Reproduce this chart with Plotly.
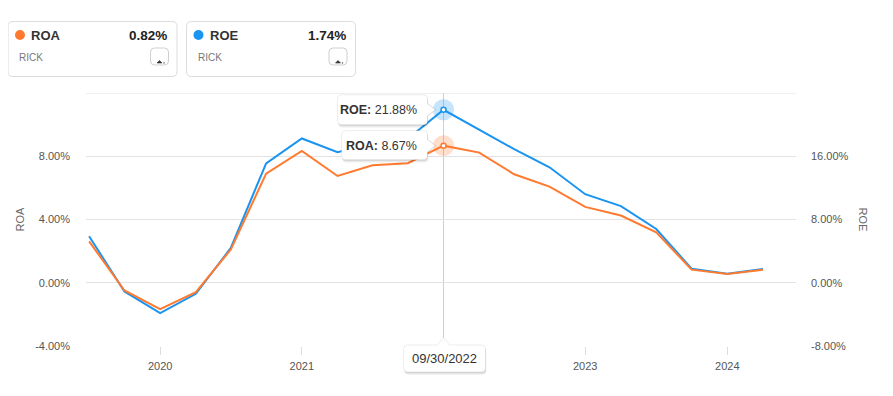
import plotly.graph_objects as go

# ---------------- data ----------------
dates = ["2020-03-31", "2020-06-30", "2020-09-30", "2020-12-31",
         "2021-03-31", "2021-06-30", "2021-09-30", "2021-12-31",
         "2022-03-31", "2022-06-30", "2022-09-30", "2022-12-31",
         "2023-03-31", "2023-06-30", "2023-09-30", "2023-12-31",
         "2024-03-31", "2024-06-30", "2024-09-30", "2024-12-31"]
roa = [2.62, -0.49, -1.67, -0.59, 2.10, 6.90, 8.34, 6.75, 7.43, 7.56,
       8.67, 8.23, 6.86, 6.08, 4.80, 4.25, 3.19, 0.83, 0.55, 0.82]
roe = [5.88, -1.10, -3.85, -1.40, 4.40, 15.10, 18.25, 16.50, 17.60, 18.20,
       21.88, 19.40, 16.90, 14.60, 11.20, 9.70, 6.80, 1.78, 1.14, 1.74]
x_tick_dates = ["2020-09-30", "2021-09-30", "2022-09-30", "2023-09-30", "2024-09-30"]
x_tick_text = ["2020", "2021", "", "2023", "2024"]   # 2022 is hidden by the date tooltip
roa_ticks = [-4, 0, 4, 8, 12]
roa_tick_text = ["-4.00%", "0.00%", "4.00%", "8.00%", ""]
roe_ticks = [-8, 0, 8, 16, 24]
roe_tick_text = ["-8.00%", "0.00%", "8.00%", "16.00%", ""]
ticker = "RICK"
hover_idx = 10

ORANGE = "#FF7A2E"
BLUE = "#1A94F0"
GRID = "#e2e2e2"
FONT = "Liberation Sans, Arial, sans-serif"

fig = go.Figure()

# ROE on y (right side), ROA on y2 (left, overlay -> drawn on top)
fig.add_trace(go.Scatter(x=dates, y=roe, mode="lines", name="ROE",
                         line=dict(color=BLUE, width=2), yaxis="y", hoverinfo="skip"))
fig.add_trace(go.Scatter(x=dates, y=roa, mode="lines", name="ROA",
                         line=dict(color=ORANGE, width=2), yaxis="y2", hoverinfo="skip"))

# hover halos
hx = dates[hover_idx]
fig.add_trace(go.Scatter(x=[hx], y=[roe[hover_idx]], mode="markers", yaxis="y",
                         marker=dict(size=21, color="rgba(26,148,240,0.25)"), hoverinfo="skip"))
fig.add_trace(go.Scatter(x=[hx], y=[roa[hover_idx]], mode="markers", yaxis="y2",
                         marker=dict(size=21, color="rgba(255,122,46,0.25)"), hoverinfo="skip"))
fig.add_trace(go.Scatter(x=[hx], y=[roe[hover_idx]], mode="markers", yaxis="y",
                         marker=dict(size=5, color="white", line=dict(color=BLUE, width=1.5)), hoverinfo="skip"))
fig.add_trace(go.Scatter(x=[hx], y=[roa[hover_idx]], mode="markers", yaxis="y2",
                         marker=dict(size=5, color="white", line=dict(color=ORANGE, width=1.5)), hoverinfo="skip"))


def rrect(L, R, B, T, r=4, ptr=None):
    """rounded rect path in pixel offsets (y up). ptr: 'right' or 'top' pointer."""
    p = f"M {L+r},{T} "
    if ptr == "top":
        p += f"L -6,{T} L 0,{T+8} L 6,{T} "
    p += f"L {R-r},{T} Q {R},{T} {R},{T-r} "
    if ptr == "right":
        p += f"L {R},6 L {R+8},0 L {R},-6 "
    p += f"L {R},{B+r} Q {R},{B} {R-r},{B} L {L+r},{B} Q {L},{B} {L},{B+r} L {L},{T-r} Q {L},{T} {L+r},{T} Z"
    return p


shapes = []

# top gridline (plotly drops the grid line lying exactly on the range edge)
shapes.append(dict(type="line", xref="paper", yref="y", x0=0, x1=1, y0=roe_ticks[-1], y1=roe_ticks[-1],
                   line=dict(color=GRID, width=1), layer="below"))
# crosshair
shapes.append(dict(type="line", xref="x", yref="paper", x0=hx, x1=hx, y0=0, y1=1,
                   line=dict(color="#cfcfcf", width=1), layer="between"))


def tooltip(xref, yref, xa, ya, L, R, B, T, ptr):
    for dx, dy, c in [(1, -3, "rgba(0,0,0,0.05)"), (0.5, -1.5, "rgba(0,0,0,0.10)")]:
        shapes.append(dict(type="path", xref=xref, yref=yref, xsizemode="pixel", ysizemode="pixel",
                           xanchor=xa, yanchor=ya, path=rrect(L + dx, R + dx, B + dy, T + dy, ptr=ptr),
                           fillcolor=c, line=dict(width=0), layer="above"))
    shapes.append(dict(type="path", xref=xref, yref=yref, xsizemode="pixel", ysizemode="pixel",
                       xanchor=xa, yanchor=ya, path=rrect(L, R, B, T, ptr=ptr),
                       fillcolor="white", line=dict(color="rgba(0,0,0,0.10)", width=0.7), layer="above"))


tooltip("x", "y", hx, roe[hover_idx], -106, -16, -15, 15, "right")
tooltip("x", "y2", hx, roa[hover_idx], -102, -16, -14, 15, "right")
tooltip("x", "paper", hx, 0, -40, 42, -26, 1, "top")

annotations = [
    dict(x=hx, y=roe[hover_idx], xref="x", yref="y", xanchor="right", yanchor="middle",
         xshift=-25, showarrow=False, text=f"<b>ROE:</b> {roe[hover_idx]:.2f}%",
         font=dict(family=FONT, size=12.5, color="#333")),
    dict(x=hx, y=roa[hover_idx], xref="x", yref="y2", xanchor="right", yanchor="middle",
         xshift=-25, showarrow=False, text=f"<b>ROA:</b> {roa[hover_idx]:.2f}%",
         font=dict(family=FONT, size=12.5, color="#333")),
    dict(x=hx, y=0, xref="x", yref="paper", xanchor="center", yanchor="middle",
         xshift=1, yshift=-12, showarrow=False,
         text=hx[5:7] + "/" + hx[8:10] + "/" + hx[0:4],
         font=dict(family=FONT, size=13, color="#333")),
    # axis titles
    dict(x=0, y=0.5, xref="paper", yref="paper", xanchor="center", yanchor="middle",
         xshift=-67, showarrow=False, text="ROA",
         textangle=-90, font=dict(family=FONT, size=11, color="#666")),
    dict(x=1, y=0.5, xref="paper", yref="paper", xanchor="center", yanchor="middle",
         xshift=67, showarrow=False, text="ROE",
         textangle=90, font=dict(family=FONT, size=11, color="#666")),
]

# legend cards (pixel offsets relative to plot top-left corner)
cards = [("ROA", ORANGE, roa[-1], 0.0), ("ROE", BLUE, roe[-1], 178.5)]
for name, col, val, off in cards:
    base = dict(xref="paper", yref="paper", xsizemode="pixel", ysizemode="pixel", xanchor=0, yanchor=1)
    shapes.append(dict(type="path", path=rrect(-78 + off, 91 + off, 16.5, 71.5, r=5),
                       fillcolor="white", line=dict(color="#dcdcdc", width=1), **base))
    shapes.append(dict(type="circle", x0=-71 + off, x1=-61 + off, y0=53, y1=63,
                       fillcolor=col, line=dict(width=0), **base))
    shapes.append(dict(type="path", path=rrect(64.5 + off, 82.5 + off, 28, 45, r=4),
                       fillcolor="white", line=dict(color="#cfcfcf", width=1), **base))
    shapes.append(dict(type="path", path=f"M {71+off},30 L {73.5+off},32.5 L {76+off},30 Z",
                       fillcolor="#333", line=dict(color="#333", width=0.6), **base))
    shapes.append(dict(type="circle", x0=77.3 + off, x1=78.7 + off, y0=29.4, y1=30.8,
                       fillcolor="#333", line=dict(width=0), **base))
    annotations.append(dict(x=0, y=1, xref="paper", yref="paper", xanchor="left", yanchor="middle",
                            xshift=-57 + off, yshift=58, showarrow=False, text=f"<b>{name}</b>",
                            font=dict(family=FONT, size=13, color="#333")))
    annotations.append(dict(x=0, y=1, xref="paper", yref="paper", xanchor="right", yanchor="middle",
                            xshift=83 + off, yshift=58, showarrow=False, text=f"<b>{val:.2f}%</b>",
                            font=dict(family=FONT, size=13.5, color="#222")))
    annotations.append(dict(x=0, y=1, xref="paper", yref="paper", xanchor="left", yanchor="middle",
                            xshift=-69 + off, yshift=36, showarrow=False, text=ticker,
                            font=dict(family=FONT, size=10, color="#777")))

# page body has an 8px margin, so the figure is shifted by 8px; compensate
fig.update_layout(
    width=885, height=388,
    margin=dict(l=78, r=97, t=85, b=50),
    paper_bgcolor="white", plot_bgcolor="white",
    showlegend=False,
    font=dict(family=FONT, size=11, color="#555"),
    xaxis=dict(type="date", range=["2020-03-23", "2025-03-26"], tickvals=x_tick_dates,
               ticktext=x_tick_text, showgrid=False, zeroline=False, showline=False,
               ticks="outside", ticklen=8, tickcolor="#dcdcdc", ticklabelstandoff=2,
               tickfont=dict(family=FONT, size=11, color="#555")),
    yaxis=dict(side="right", range=[-8, 24], tickvals=roe_ticks, ticktext=roe_tick_text,
               showgrid=True, gridcolor=GRID, gridwidth=1, zeroline=False, showline=False,
               ticks="", ticklabelstandoff=14, tickfont=dict(family=FONT, size=11, color="#555")),
    yaxis2=dict(overlaying="y", side="left", range=[-4, 12], tickvals=roa_ticks,
                ticktext=roa_tick_text, showgrid=False, zeroline=False, showline=False,
                ticks="", ticklabelstandoff=15, tickfont=dict(family=FONT, size=11, color="#555")),
    shapes=shapes,
    annotations=annotations,
)

fig.write_html("out.html")
